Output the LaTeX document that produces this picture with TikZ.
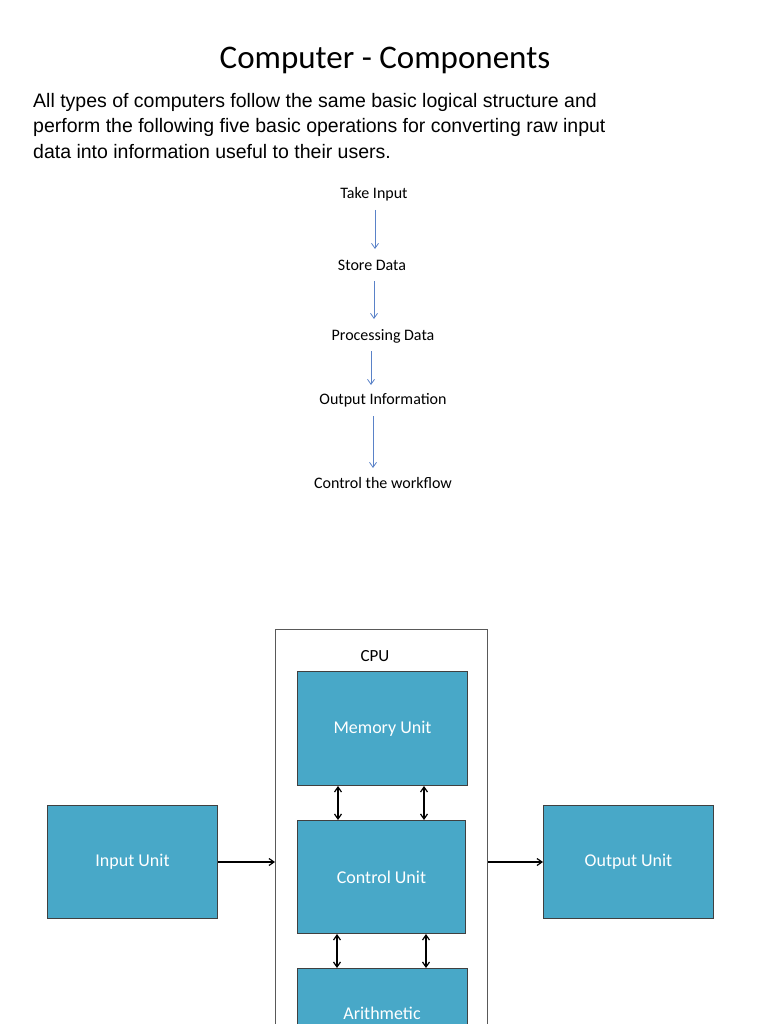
\documentclass[tikz,border=0pt]{standalone}
\usepackage{fontspec}
\setmainfont{Carlito}
\newfontfamily\arialfont{Liberation Sans}
\usetikzlibrary{arrows.meta, positioning}
\definecolor{unitblue}{RGB}{72,168,200}
\definecolor{flowblue}{RGB}{90,130,200}

\begin{document}
\begin{tikzpicture}[
    x=1pt, y=-1pt,
    operation/.style={font=\fontsize{16}{19}\selectfont, inner sep=1pt},
    unit/.style={rectangle, draw=black!75, line width=1pt, fill=unitblue, text=white, minimum width=170pt, minimum height=113pt, font=\fontsize{18}{21}\selectfont},
    flow/.style={draw=flowblue, line width=0.8pt, -{Straight Barb[length=5pt,width=7pt]}},
    link/.style={line width=1.2pt, -{Straight Barb[length=5pt,width=7pt]}},
    bilink/.style={line width=1.2pt, {Straight Barb[length=5pt,width=7pt]}-{Straight Barb[length=5pt,width=7pt]}}
]
\useasboundingbox (0,0) rectangle (768,1024);
\clip (0,0) rectangle (768,1024);

% Title and text
\node (title) at (385,60) {\fontsize{33}{38}\selectfont Computer - Components};
\node[anchor=west, align=left, inner sep=0pt, font=\arialfont\fontsize{19.5}{25.5}\selectfont] (intro) at (33,126)
    {All types of computers follow the same basic logical structure and\\perform the following five basic operations for converting raw input\\data into information useful to their users.};

% Five operations
\node[operation] (take) at (374,194) {Take Input};
\node[operation] (store) at (372,265) {Store Data};
\node[operation] (process) at (383,336) {Processing Data};
\node[operation] (output) at (383,400) {Output Information};
\node[operation] (control) at (383,483) {Control the workflow};

\draw[flow] (375,210) -- (375,249);
\draw[flow] (374,281) -- (374,319);
\draw[flow] (371,351) -- (371,385);
\draw[flow] (373,416) -- (373,468);

% Block diagram
\node[draw=black!65, line width=1pt, minimum width=212pt, minimum height=460pt, anchor=north west] (cpu) at (275,629) {};
\node (cpulabel) at (375,656) {\fontsize{17}{20}\selectfont CPU};
\node[unit, minimum height=114pt, anchor=north west] (memory) at (297,671) {Memory Unit};
\node[unit, anchor=north west, minimum width=168pt] (controlunit) at (297,820) {Control Unit};
\node[unit, anchor=north west, minimum height=90pt] (alu) at (297,968) {};
\node[text=white, font=\fontsize{18}{21}\selectfont] (alutext) at (382,1013) {Arithmetic};
\node[unit, anchor=north west] (input) at (47,805) {Input Unit};
\node[unit, anchor=north west] (outputunit) at (543,805) {Output Unit};

\draw[link] (input.east) -- (input.east -| cpu.west);
\draw[link] (outputunit.west -| cpu.east) -- (outputunit.west);
\draw[bilink] (memory.south -| 338,0) -- (controlunit.north -| 338,0);
\draw[bilink] (memory.south -| 424,0) -- (controlunit.north -| 424,0);
\draw[bilink] (controlunit.south -| 337,0) -- (alu.north -| 337,0);
\draw[bilink] (controlunit.south -| 426,0) -- (alu.north -| 426,0);
\end{tikzpicture}
\end{document}
